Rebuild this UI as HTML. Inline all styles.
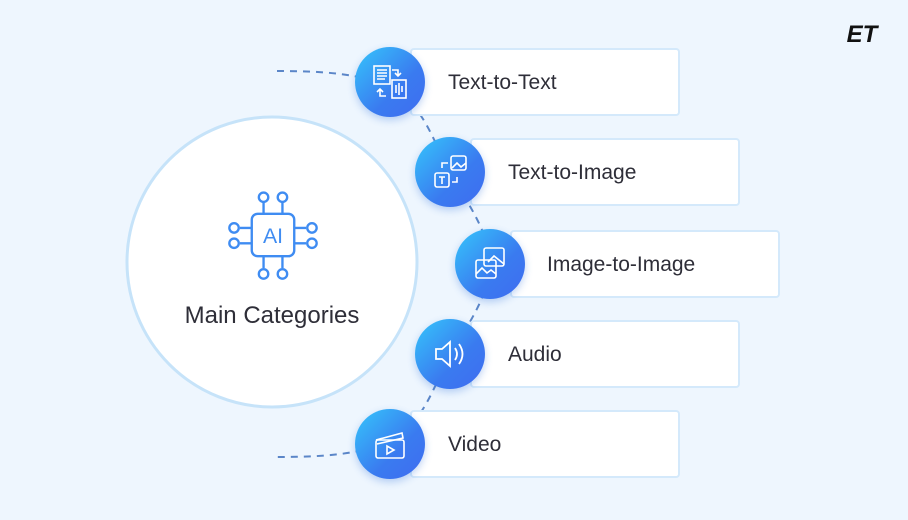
<!DOCTYPE html>
<html><head><meta charset="utf-8"><style>
html,body{margin:0;padding:0}
body{width:908px;height:520px;background:#eef6fe;position:relative;overflow:hidden;font-family:"Liberation Sans",sans-serif}
.box{position:absolute;width:270px;height:68px;background:#fff;border:2px solid #d4e9fb;border-radius:4px;box-sizing:border-box;font-size:21px;color:#2e2e38;line-height:66px}
.ic{position:absolute;width:70px;height:70px;border-radius:50%;background:linear-gradient(135deg,#35c6fb,#3a7bf0 60%,#3f6cf0);box-shadow:0 3px 8px rgba(40,110,220,.3)}
.ic svg{position:absolute;left:17px;top:17px}
</style></head><body>
<svg width="908" height="520" style="position:absolute;left:0;top:0">
<path d="M277 71 C320 71 366 73 395 90 C424 107 434 143 450 172 C466 201 490 233 490 264 C490 295 466 327 450 356 C434 385 424 421 395 438 C366 455 320 457 277 457" fill="none" stroke="#5b86c8" stroke-width="2" stroke-dasharray="7 6" />
<circle cx="272" cy="262" r="145" fill="#fff" stroke="#c6e3f9" stroke-width="3"/>
<g transform="translate(273,235) scale(1.18) translate(-273,-235)">
<g fill="none" stroke="#3f8cf2" stroke-width="2">
<rect x="255" y="217" width="36" height="36" rx="5"/>
<path d="M265 217v-10M281 217v-10M265 253v10M281 253v10M255 229h-10M255 242h-10M291 229h10M291 242h10"/>
<circle cx="265" cy="203" r="4"/><circle cx="281" cy="203" r="4"/><circle cx="265" cy="268" r="4"/><circle cx="281" cy="268" r="4"/>
<circle cx="240" cy="229" r="4"/><circle cx="240" cy="242" r="4"/><circle cx="306" cy="229" r="4"/><circle cx="306" cy="242" r="4"/>
</g>
<text x="273" y="242" text-anchor="middle" font-size="18" fill="#3f8cf2" font-family="Liberation Sans">AI</text>
</g>
<text x="272" y="323" text-anchor="middle" font-size="24" fill="#2e2e38" font-family="Liberation Sans">Main Categories</text>
<text x="862" y="42" text-anchor="middle" font-size="24" font-weight="bold" font-style="italic" fill="#111" font-family="Liberation Sans">ET</text>
</svg>
<div class="box" style="left:410px;top:48px;padding-left:36px">Text-to-Text</div>
<div class="box" style="left:470px;top:138px;padding-left:36px">Text-to-Image</div>
<div class="box" style="left:510px;top:230px;padding-left:35px">Image-to-Image</div>
<div class="box" style="left:470px;top:320px;padding-left:36px">Audio</div>
<div class="box" style="left:410px;top:410px;padding-left:36px">Video</div>
<div class="ic" style="left:355px;top:47px"><svg width="36" height="36" fill="none" stroke="#fff" stroke-width="1.6"><rect x="2" y="2" width="16" height="18"/><path d="M5 6h10M5 9h10M5 12h10M5 15h8M20 6h6v5M23 9l3 3 3-3"/><rect x="20" y="16" width="14" height="18"/><path d="M24 21v8M27 19v12M30 22v6M14 32H8v-6M5 28l3-3 3 3"/></svg></div>
<div class="ic" style="left:415px;top:137px"><svg width="36" height="36" fill="none" stroke="#fff" stroke-width="1.6"><rect x="19" y="2" width="15" height="14" rx="2"/><path d="M20 14l5-5 4 4 5-4"/><rect x="3" y="19" width="14" height="14" rx="2"/><path d="M7 23h6M10 23v7M16 9h-6v5M20 28h5v-5"/></svg></div>
<div class="ic" style="left:455px;top:229px"><svg width="36" height="36" fill="none" stroke="#fff" stroke-width="1.6"><rect x="12" y="2" width="20" height="18" rx="2"/><rect x="4" y="14" width="20" height="18" rx="2"/><path d="M4 28l6-6 5 5 4-3 5 4M16 16l6-6 10 8"/></svg></div>
<div class="ic" style="left:415px;top:319px"><svg width="36" height="36" fill="none" stroke="#fff" stroke-width="1.8"><path d="M4 13h6l8-7v24l-8-7H4z"/><path d="M23 12q4 6 0 12M27 8q7 10 0 20"/></svg></div>
<div class="ic" style="left:355px;top:409px"><svg width="36" height="36" fill="none" stroke="#fff" stroke-width="1.6"><rect x="4" y="14" width="28" height="18" rx="2"/><path d="M4 14l26-7 1 5-26 6M15 20v8l7-4z"/></svg></div>
</body></html>
